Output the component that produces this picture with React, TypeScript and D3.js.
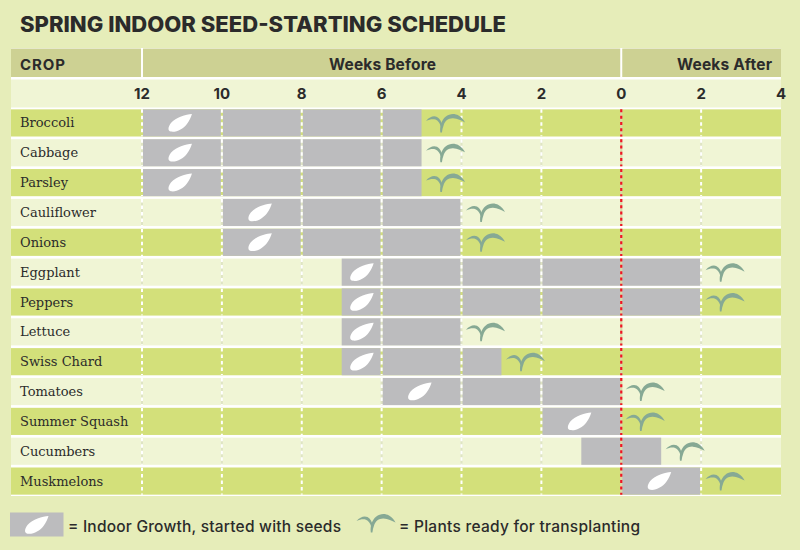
import React from 'react';
import * as d3 from 'd3';

const crops = ['Broccoli', 'Cabbage', 'Parsley', 'Cauliflower', 'Onions', 'Eggplant', 'Peppers', 'Lettuce', 'Swiss Chard', 'Tomatoes', 'Summer Squash', 'Cucumbers', 'Muskmelons'];
// weeks relative to the last frost date, negative = before
const growStart = [-12, -12, -12, -10, -10, -7, -7, -7, -7, -6, -2, -1, 0];
const growEnd = [-5, -5, -5, -4, -4, 2, 2, -4, -3, 0, 0, 1, 2];
// cucumbers have no leaf in the original
const leafWeek = [-11, -11, -11, -9, -9, -6.45, -6.45, -6.45, -6.45, -5, -1, null, 1];
const sproutWeek = [-4.5, -4.5, -4.5, -3.5, -3.5, 2.5, 2.5, -3.5, -2.5, 0.5, 0.5, 1.5, 2.5];
const weekTicks = [-12, -10, -8, -6, -4, -2, 0, 2, 4];

const colors = {
  page: '#e6edb9',
  header: '#cdd193',
  pale: '#f0f5d5',
  green: '#d3e07a',
  gray: '#bcbcbe',
  sprout: '#86a994',
  ink: '#2b2b2b',
  paleDash: '#dfe4c4',
  zeroGap: '#d8dba8',
  red: '#f01525',
};

const headFont = 'Inter, "Open Sans", sans-serif';
const cropFont = '"DejaVu Serif", serif';

const leafPath = 'M12,-9 C6,-8.5 -4,-6 -9,0 C-12,4 -12.5,8 -9,8.7 C-3,9.5 3,6 7,1 C9.5,-2 11,-6 12,-9 Z';
const sproutLeft = 'M-15.5,-2 C-12,-6 -8,-7.5 -4.5,-6 C-1.5,-4.5 0,-1 0.8,2.5 L-0.8,3.5 C-2,0 -3.5,-2.5 -6,-3.3 C-9,-4.2 -12,-3.5 -15.5,-2 Z';
const sproutRight = 'M-1.2,9.5 C-2,3 0,-3 4,-6.2 C8,-9.5 13,-9.8 17,-7.5 C20,-5.5 22.5,-3 23.5,-0.5 C20,-2.5 16,-4.2 11.5,-4.6 C7,-4.8 3.5,-2 2.2,2 C1.2,4.5 0.7,7 0.4,9.5 Z';

const Leaf = ({ x, y }: { x: number; y: number }) => <path d={leafPath} transform={`translate(${x - 2},${y})`} fill="#fff" />;

const Sprout = ({ x, y }: { x: number; y: number }) => (
  <g transform={`translate(${x},${y})`} fill={colors.sprout}>
    <path d={sproutLeft} />
    <path d={sproutRight} />
  </g>
);

// rows alternate, green first
const rowColor = (i: number) => (i % 2 === 0 ? colors.green : colors.pale);

export default function App() {
  const x = d3.scaleLinear().domain([-12, 4]).range([142, 781]);
  const rowY = d3.scaleBand<number>().domain(d3.range(crops.length)).range([108, 496]).paddingInner(0.09).paddingOuter(0.045);
  const rowH = rowY.bandwidth();
  const left = 11;
  const right = 781;

  return (
    <svg width={800} height={550} style={{ position: 'absolute', left: 0, top: 0 }}>
      <rect width={800} height={550} fill={colors.page} />
      <text x={20} y={31.5} fontFamily={headFont} fontWeight={800} fontSize={21.5} textLength={486} lengthAdjust="spacingAndGlyphs" fill={colors.ink}>
        SPRING INDOOR SEED-STARTING SCHEDULE
      </text>

      {/* white table back */}
      <rect x={left} y={48} width={right - left} height={448} fill="#fff" />

      {/* header rows */}
      <rect x={left} y={48.5} width={130} height={28.5} fill={colors.header} />
      <rect x={x(-12) + 1} y={48.5} width={x(0) - x(-12) - 2} height={28.5} fill={colors.header} />
      <rect x={x(0) + 1} y={48.5} width={x(4) - x(0) - 1} height={28.5} fill={colors.header} />
      <rect x={left} y={79.5} width={right - left} height={28} fill={colors.pale} />
      <text x={20} y={70} fontFamily={headFont} fontWeight={700} fontSize={15} textLength={45} fill={colors.ink}>CROP</text>
      <text x={329} y={70} fontFamily={headFont} fontWeight={700} fontSize={15.5} textLength={107} fill={colors.ink}>Weeks Before</text>
      <text x={677} y={70} fontFamily={headFont} fontWeight={700} fontSize={15.5} textLength={95} fill={colors.ink}>Weeks After</text>
      {weekTicks.map(w => (
        <text key={w} x={x(w)} y={99} textAnchor="middle" fontFamily={headFont} fontWeight={700} fontSize={15} fill={colors.ink}>
          {Math.abs(w)}
        </text>
      ))}

      {/* crop rows */}
      {crops.map((crop, i) => {
        const y = rowY(i)!;
        const rowFill = rowColor(i);
        const isGreen = rowFill === colors.green;
        return (
          <g key={crop}>
            <rect x={left} y={y} width={right - left} height={rowH} fill={rowFill} />
            <text x={20} y={y + rowH / 2 + 4.5} fontFamily={cropFont} fontSize={13} fill={colors.ink}>{crop}</text>
            <rect x={x(growStart[i])} y={y} width={x(growEnd[i]) - x(growStart[i])} height={rowH} fill={colors.gray} />
            {weekTicks.filter(w => w < 4).map(w => (
              <g key={w}>
                {w === 0 ? (
                  <>
                    <line x1={x(w)} x2={x(w)} y1={y} y2={y + rowH} stroke={colors.zeroGap} strokeWidth={2.2} />
                    <line x1={x(w)} x2={x(w)} y1={y} y2={y + rowH} stroke={colors.red} strokeWidth={2.2} strokeDasharray="3 3.3" />
                  </>
                ) : (
                  <>
                    <line x1={x(w)} x2={x(w)} y1={y} y2={y + rowH} stroke={isGreen ? colors.green : colors.paleDash} strokeWidth={2} />
                    <line x1={x(w)} x2={x(w)} y1={y} y2={y + rowH} stroke="#fff" strokeWidth={2} strokeDasharray="3.5 3" />
                  </>
                )}
              </g>
            ))}
            {leafWeek[i] !== null && <Leaf x={x(leafWeek[i] as number)} y={y + rowH / 2} />}
            <Sprout x={x(sproutWeek[i])} y={y + rowH / 2} />
          </g>
        );
      })}

      {/* legend */}
      <rect x={10} y={512.5} width={53.5} height={24} fill={colors.gray} />
      <Leaf x={38.5} y={525} />
      <text x={68} y={532} fontFamily={headFont} fontWeight={500} fontSize={15.5} textLength={273} fill={colors.ink}>= Indoor Growth, started with seeds</text>
      <Sprout x={372} y={523} />
      <text x={399} y={532} fontFamily={headFont} fontWeight={500} fontSize={15.5} textLength={241} fill={colors.ink}>= Plants ready for transplanting</text>
    </svg>
  );
}
